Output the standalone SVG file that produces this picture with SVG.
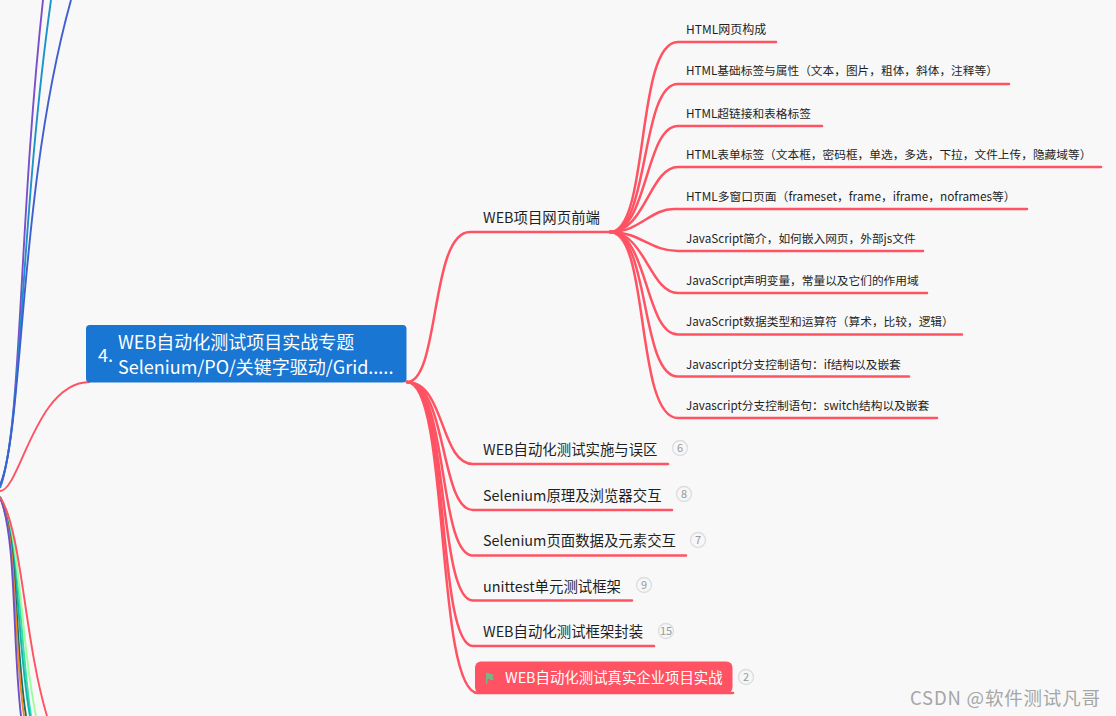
<svg xmlns="http://www.w3.org/2000/svg" width="1116" height="716" viewBox="0 0 1116 716">
<style>
text{font-family:"Noto Sans CJK SC","Noto Sans",sans-serif}
.l{fill:none;stroke:#ff5263;stroke-width:2.5;stroke-linecap:round}
.r{fill:none;stroke-width:1.9}
.t2{font-size:14.4px;fill:#1f1f1f}
.t3{font-size:11.7px;fill:#1f1f1f}
.b circle{fill:#f7f7f7;stroke:#ddd;stroke-width:1.3}
.b text{font-size:11px;fill:#999;text-anchor:middle}
.b text.t2{text-anchor:start;font-size:14.4px;fill:#1f1f1f}
</style>
<rect width="1116" height="716" fill="#f8f8f8"/>
<g id="connectors">
<path class="r" stroke="#7a4fc9" d="M0 488C22 430 18 230 43 0"/>
<path class="r" stroke="#1b93c9" d="M0 487C22 430 20 220 51 0"/>
<path class="r" stroke="#3f5fd0" d="M0 485C24 430 18 190 71 0"/>
<path class="r" stroke="#38e0a8" d="M0 497C21 530 17 620 31 716"/>
<path class="r" stroke="#9cff9c" d="M0 497C22 540 20 640 36 716"/>
<path class="r" stroke="#12b5b0" d="M0 497C20 540 16 640 30 716"/>
<path class="r" stroke="#14705f" d="M0 497C19 540 14 640 26 716"/>
<path class="r" stroke="#f08a24" d="M0 497C18 540 13 640 24 716"/>
<path class="r" stroke="#6f4fc9" d="M0 497C17 540 12 640 21 716"/>
<path class="r" stroke="#ff5263" d="M0 497C22 530 24 640 47 716"/>
<path class="r" stroke="#ff5263" d="M0 491C20 491 35 382 90 382"/>
<path class="l" d="M407 382C440 382 430 232 470 232H610"/>
<path class="l" d="M610 232C650 232 635 42 678 42H776"/>
<path class="l" d="M610 232C650 232 640 84 678 84H1009"/>
<path class="l" d="M610 232C648 232 645 126 678 126H822"/>
<path class="l" d="M610 232C645 232 650 167 678 167H1101"/>
<path class="l" d="M610 232C640 232 650 209 674 209H1027"/>
<path class="l" d="M610 232C640 232 650 251 678 251H923"/>
<path class="l" d="M610 232C645 232 650 293 678 293H927"/>
<path class="l" d="M610 232C648 232 645 334.500 678 334.500H962"/>
<path class="l" d="M610 232C650 232 640 376.500 678 376.500H909"/>
<path class="l" d="M610 232C650 232 635 418 678 418H937"/>
<path class="l" d="M407 382C445 382 440 464 473 464H668"/>
<path class="l" d="M407 382C447 382 440 510 473 510H672"/>
<path class="l" d="M407 382C448 382 438 555.500 473 555.500H686"/>
<path class="l" d="M407 382C449 382 437 600.500 473 600.500H632"/>
<path class="l" d="M407 382C450 382 436 646 473 646H654"/>
<path class="l" d="M407 382C450 382 435 693 478 693H733"/>
</g>
<g id="main">
<rect x="86" y="325" width="320.500" height="57.500" rx="4" fill="#1976d2"/>
<text x="98" y="362" font-size="18" fill="#fff">4.</text>
<text x="118" y="349" font-size="18" fill="#fff">WEB自动化测试项目实战专题</text>
<text x="118" y="374" font-size="18" fill="#fff">Selenium/PO/关键字驱动/Grid.....</text>
</g>
<g id="n-web"><text class="t2" x="483" y="223">WEB项目网页前端</text></g>
<g id="c1"><text class="t3" x="686" y="34" style="font-size:12px">HTML网页构成</text></g>
<g id="c2"><text class="t3" x="686" y="75">HTML基础标签与属性（文本，图片，粗体，斜体，注释等）</text></g>
<g id="c3"><text class="t3" x="686" y="118">HTML超链接和表格标签</text></g>
<g id="c4"><text class="t3" x="686" y="159">HTML表单标签（文本框，密码框，单选，多选，下拉，文件上传，隐藏域等）</text></g>
<g id="c5"><text class="t3" x="686" y="201" style="font-size:11.8px">HTML多窗口页面（frameset，frame，iframe，noframes等）</text></g>
<g id="c6"><text class="t3" x="686" y="243">JavaScript简介，如何嵌入网页，外部js文件</text></g>
<g id="c7"><text class="t3" x="686" y="285">JavaScript声明变量，常量以及它们的作用域</text></g>
<g id="c8"><text class="t3" x="686" y="326">JavaScript数据类型和运算符（算术，比较，逻辑）</text></g>
<g id="c9"><text class="t3" x="686" y="369">Javascript分支控制语句：if结构以及嵌套</text></g>
<g id="c10"><text class="t3" x="686" y="410">Javascript分支控制语句：switch结构以及嵌套</text></g>
<g id="n1" class="b"><text class="t2" x="483" y="455">WEB自动化测试实施与误区</text><circle cx="680" cy="448" r="7.500"/><text x="680" y="452">6</text></g>
<g id="n2" class="b"><text class="t2" x="483" y="501">Selenium原理及浏览器交互</text><circle cx="684" cy="494" r="7.500"/><text x="684" y="498">8</text></g>
<g id="n3" class="b"><text class="t2" x="483" y="546">Selenium页面数据及元素交互</text><circle cx="698" cy="540" r="7.500"/><text x="698" y="544">7</text></g>
<g id="n4" class="b"><text class="t2" x="483" y="592">unittest单元测试框架</text><circle cx="644" cy="585" r="7.500"/><text x="644" y="589">9</text></g>
<g id="n5" class="b"><text class="t2" x="483" y="637">WEB自动化测试框架封装</text><circle cx="666" cy="631" r="7.500"/><text x="666" y="635">15</text></g>
<g id="n6" class="b">
<rect x="475" y="661.500" width="257.500" height="32" rx="6" fill="#ff5263"/>
<path d="M486 684V673C489 672 490 675 494 674L492.500 677L494 680C490 681 489 678 487.500 679V684Z" fill="#6fb98a"/>
<text style="text-anchor:start;font-size:14.400px;fill:#fff" x="505" y="683">WEB自动化测试真实企业项目实战</text>
<circle cx="746" cy="677" r="7.500"/><text x="746" y="681">2</text>
</g>
<text x="910" y="705" font-size="18.500" fill="#a6a6a6" textLength="190" lengthAdjust="spacing">CSDN @软件测试凡哥</text>
</svg>
